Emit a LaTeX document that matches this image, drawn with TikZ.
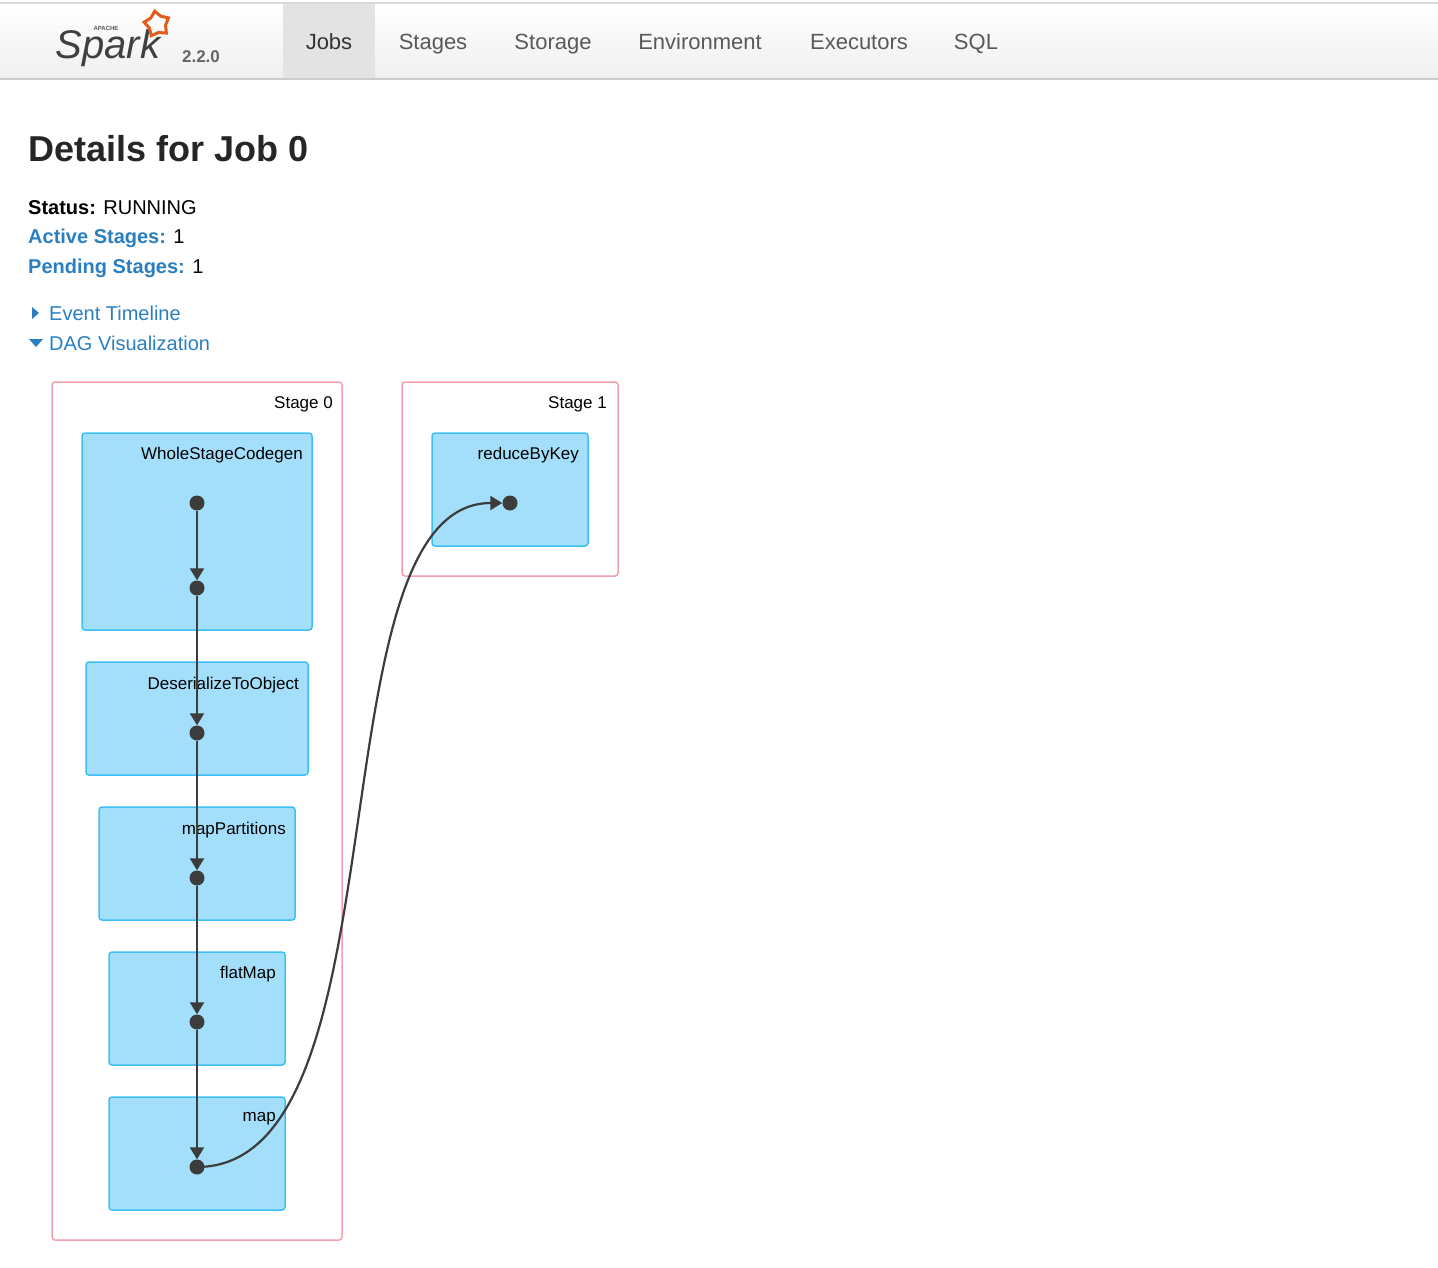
\documentclass[tikz,border=0pt]{standalone}
\usepackage{fontspec}
\setmainfont{Liberation Sans}
\usetikzlibrary{arrows.meta, positioning, calc, shapes.geometric}
\definecolor{sparkblue}{RGB}{42,127,194}
\definecolor{opfill}{RGB}{163,223,250}
\definecolor{opline}{RGB}{62,192,245}
\definecolor{stageline}{RGB}{244,160,174}
\definecolor{edgegray}{RGB}{60,60,60}
\definecolor{sparkorange}{RGB}{226,90,28}

\begin{document}
\begin{tikzpicture}[
    x=1pt, y=-1pt,
    navtab/.style={font=\fontsize{22}{24}\selectfont, text=black!65, anchor=base},
    info/.style={font=\fontsize{20}{22}\selectfont, anchor=west, inner sep=0pt},
    stagebox/.style={draw=stageline, line width=1.5pt, rounded corners=3pt},
    opbox/.style={draw=opline, fill=opfill, line width=1.5pt, rounded corners=3pt},
    oplabel/.style={font=\fontsize{17}{19}\selectfont, anchor=east, inner sep=0pt},
    dot/.style={circle, fill=edgegray, inner sep=0pt, minimum size=15pt},
    edge/.style={-{Triangle[length=12pt, width=14pt]}, line width=2.2pt, draw=edgegray}
]
    \useasboundingbox (0,0) rectangle (1438,1268);
    % header bar
    \shade[top color=white, bottom color=black!6] (0,3) rectangle (1438,78);
    \draw[black!15, line width=1.5pt] (0,3) -- (1438,3);
    \draw[black!20, line width=2pt] (0,79) -- (1438,79);
    \fill[black!11] (283,4) rectangle (375,78);
    \node[font=\fontsize{40}{40}\selectfont\itshape, text=black!75, anchor=center] (logo) at (108,48) {Spark};
    \node[font=\fontsize{6}{6}\selectfont\bfseries, text=black!65] (apache) at (106,28) {APACHE};
    \node[star, star points=5, draw=sparkorange, line width=3pt, minimum size=26pt, inner sep=0pt, rotate=10] (logostar) at (157,24) {};
    \node[font=\fontsize{17}{19}\selectfont\bfseries, text=black!60] (version) at (201,57) {2.2.0};
    \node[navtab, text=black!80] (jobs) at (329,50) {Jobs};
    \node[navtab] (stages) at (433,50) {Stages};
    \node[navtab] (storage) at (553,50) {Storage};
    \node[navtab] (env) at (700,50) {Environment};
    \node[navtab] (exec) at (859,50) {Executors};
    \node[navtab] (sql) at (976,50) {SQL};

    % job summary
    \node[font=\fontsize{36}{38}\selectfont\bfseries, text=black!85, anchor=west, inner sep=0pt] (title) at (28,149) {Details for Job 0};
    \node[info] (status) at (28,208) {\textbf{Status:} RUNNING};
    \node[info] (active) at (28,238) {\textcolor{sparkblue}{\textbf{Active Stages:}} 1};
    \node[info] (pending) at (28,268) {\textcolor{sparkblue}{\textbf{Pending Stages:}} 1};
    \fill[sparkblue] (32,307) -- (39,313) -- (32,319) -- cycle;
    \node[info, text=sparkblue] (timeline) at (49,313) {Event Timeline};
    \fill[sparkblue] (29,339) -- (43,339) -- (36,347) -- cycle;
    \node[info, text=sparkblue] (dagvis) at (49,343) {DAG Visualization};

    % stages
    \draw[stagebox] (52,382) rectangle (342,1240);
    \node[oplabel] (stage0) at (333,404) {Stage 0};
    \draw[stagebox] (402,382) rectangle (618,576);
    \node[oplabel] (stage1) at (607,404) {Stage 1};

    % operators
    \draw[opbox] (82,433) rectangle (312,630);
    \node[oplabel] (wscg) at (303,455) {WholeStageCodegen};
    \draw[opbox] (86,662) rectangle (308,775);
    \node[oplabel] (deser) at (299,685) {DeserializeToObject};
    \draw[opbox] (99,807) rectangle (295,920);
    \node[oplabel] (mappart) at (286,830) {mapPartitions};
    \draw[opbox] (109,952) rectangle (285,1065);
    \node[oplabel] (flatmap) at (276,974) {flatMap};
    \draw[opbox] (109,1097) rectangle (285,1210);
    \node[oplabel] (map) at (276,1119) {map};
    \draw[opbox] (432,433) rectangle (588,546);
    \node[oplabel] (reduce) at (579,455) {reduceByKey};

    % rdd dots
    \node[dot] (d1) at (197,503) {};
    \node[dot] (d2) at (197,588) {};
    \node[dot] (d3) at (197,733) {};
    \node[dot] (d4) at (197,878) {};
    \node[dot] (d5) at (197,1022) {};
    \node[dot] (d6) at (197,1167) {};
    \node[dot] (d7) at (510,503) {};

    \draw[edge] (d1) -- (d2);
    \draw[edge] (d2) -- (d3);
    \draw[edge] (d3) -- (d4);
    \draw[edge] (d4) -- (d5);
    \draw[edge] (d5) -- (d6);
    \draw[edge] (d6.center) .. controls (410,1167) and (310,503) .. (d7);
\end{tikzpicture}
\end{document}
